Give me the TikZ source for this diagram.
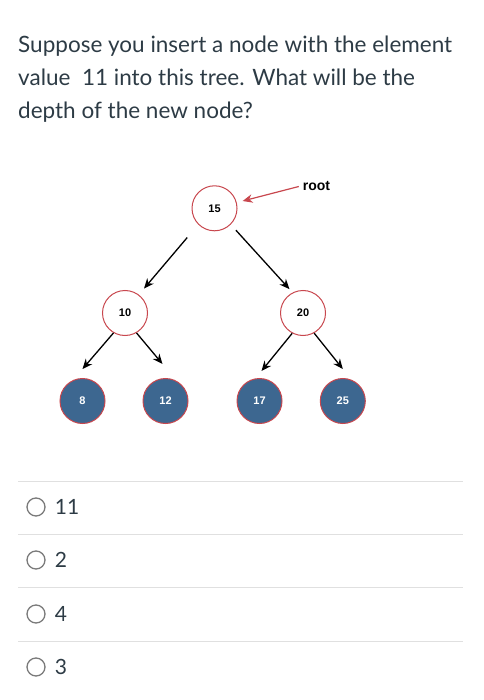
\documentclass[tikz,border=0pt]{standalone}
\usepackage{fontspec}
\setmainfont{Lato}
\newfontfamily\treefont{Liberation Sans}
\usetikzlibrary{positioning, arrows.meta}

\definecolor{ringred}{HTML}{C8474E}
\definecolor{leafblue}{HTML}{3D6790}
\definecolor{optgray}{HTML}{7A7A7A}
\definecolor{rulegray}{HTML}{E0E0E0}
\definecolor{inkdark}{HTML}{2D3B45}

\tikzset{
    qline/.style={anchor=base west, inner sep=0pt, text=inkdark, font=\fontsize{22.5}{26}\selectfont},
    inner/.style={circle, draw=ringred, line width=1pt, fill=white, minimum size=45pt, inner sep=0pt, font=\treefont\bfseries\fontsize{11}{13}\selectfont},
    leaf/.style={circle, draw=ringred, line width=1pt, fill=leafblue, text=white, minimum size=45pt, inner sep=0pt, font=\treefont\bfseries\fontsize{11}{13}\selectfont},
    edge/.style={-{Stealth[length=10pt, width=8.5pt]}, line width=1.3pt, black},
    radio/.style={circle, draw=optgray, line width=1.3pt, minimum size=18pt, inner sep=0pt},
    answer/.style={anchor=west, inner sep=0pt, text=inkdark, font=\fontsize{21}{24}\selectfont}
}

\begin{document}
\begin{tikzpicture}[x=1pt, y=-1pt]
    \useasboundingbox (0,0) rectangle (483,700);

    % Question
    \node[qline] (q1) at (18,53) {Suppose you insert a node with the element};
    \node[qline] (q2) at (18,86) {value~ 11 into this tree. What will be the};
    \node[qline] (q3) at (18,119) {depth of the new node?};

    % Draw nodes
    \node[inner] (n15) at (214.5,208.3) {15};
    \node[inner] (n10) at (125,313) {10};
    \node[inner] (n20) at (303,313) {20};
    \node[leaf] (n8) at (82.5,401) {8};
    \node[leaf] (n12) at (165.5,401) {12};
    \node[leaf] (n17) at (259.5,401) {17};
    \node[leaf] (n25) at (342.8,401) {25};
    \node[font=\treefont\bfseries\fontsize{14}{16}\selectfont, inner sep=2pt] (root) at (316.5,186) {root};

    % Draw connections
    \draw[edge, shorten <=17pt, shorten >=8pt] (n15.225) -- (n10.53);
    \draw[edge, shorten <=7.6pt, shorten >=4.6pt] (n15.-45) -- (n20.117);
    \draw[edge] (n10.240) -- ([yshift=9pt]n8.north);
    \draw[edge] (n10.300) -- ([xshift=-3pt, yshift=14pt]n12.north);
    \draw[edge] (n20.242) -- ([xshift=2pt, yshift=7pt]n17.north);
    \draw[edge] (n20.299) -- ([yshift=9pt]n25.north);
    \draw[edge, ringred, line width=1.2pt, shorten <=2pt, shorten >=6pt] (root.west) -- (n15);

    % Answers
    \foreach \y in {481,534,587,641}
        \draw[rulegray, line width=1pt] (18,\y) -- (463,\y);
    \node[radio] (r1) at (36,507) {};
    \node[radio] (r2) at (36,560) {};
    \node[radio] (r3) at (36,614) {};
    \node[radio] (r4) at (36,667) {};
    \node[answer, right=9pt of r1] (a1) {11};
    \node[answer, right=9pt of r2] (a2) {2};
    \node[answer, right=9pt of r3] (a3) {4};
    \node[answer, right=9pt of r4] (a4) {3};
\end{tikzpicture}
\end{document}
